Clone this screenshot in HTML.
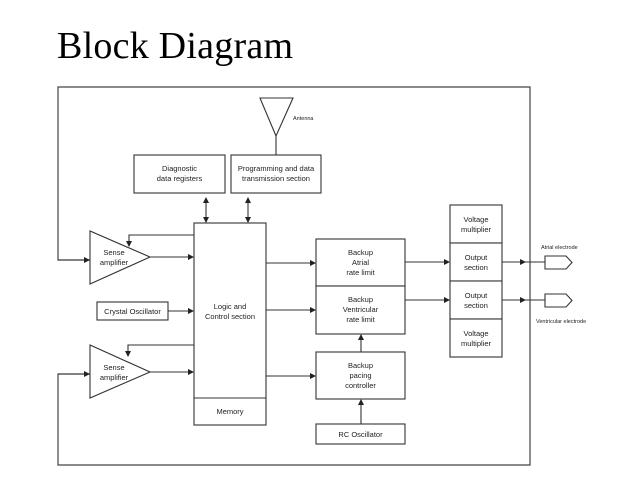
<!DOCTYPE html>
<html><head><meta charset="utf-8"><style>
html,body{margin:0;padding:0;background:#fff;}
svg text{font-family:"Liberation Sans",sans-serif;fill:#222;}
</style></head><body>
<svg width="638" height="479" viewBox="0 0 638 479" xmlns="http://www.w3.org/2000/svg">
<defs><marker id="a" markerWidth="6" markerHeight="6" refX="5" refY="3" orient="auto" markerUnits="userSpaceOnUse"><path d="M0,0 L6,3 L0,6z" fill="#222"/></marker>
<marker id="b" markerWidth="6" markerHeight="6" refX="1" refY="3" orient="auto" markerUnits="userSpaceOnUse"><path d="M6,0 L0,3 L6,6z" fill="#222"/></marker></defs>
<text x="57" y="58" style="font-family:'Liberation Serif',serif;font-size:38px;fill:#000" textLength="236">Block Diagram</text>
<g fill="none" stroke="#444" stroke-width="1.2">
<polyline points="90,260 58,260 58,87 530,87 530,465 58,465 58,374 90,374"/>
</g>
<g fill="#fff" stroke="#333" stroke-width="1.1">
<polygon points="260,98 293,98 276,136"/>
<rect x="134" y="155" width="91" height="38"/>
<rect x="231" y="155" width="90" height="38"/>
<rect x="194" y="223" width="72" height="202"/>
<line x1="194" y1="398" x2="266" y2="398"/>
<polygon points="90,231 90,284 150,257"/>
<polygon points="90,345 90,398 150,372"/>
<rect x="97" y="302" width="71" height="18"/>
<rect x="316" y="239" width="89" height="47"/>
<rect x="316" y="286" width="89" height="48"/>
<rect x="316" y="352" width="89" height="47"/>
<rect x="316" y="424" width="89" height="20"/>
<rect x="450" y="205" width="52" height="38"/>
<rect x="450" y="243" width="52" height="38"/>
<rect x="450" y="281" width="52" height="38"/>
<rect x="450" y="319" width="52" height="38"/>
<polygon points="545,256 566,256 572,262.5 566,269 545,269"/>
<polygon points="545,294 566,294 572,300.5 566,307 545,307"/>
</g>
<g stroke="#333" stroke-width="1.1" fill="none">
<line x1="276" y1="136" x2="276" y2="155"/>
<line x1="206" y1="198" x2="206" y2="222" marker-start="url(#b)" marker-end="url(#a)"/>
<line x1="248" y1="198" x2="248" y2="222" marker-start="url(#b)" marker-end="url(#a)"/>
<line x1="58" y1="260" x2="89" y2="260" marker-end="url(#a)"/>
<line x1="58" y1="374" x2="89" y2="374" marker-end="url(#a)"/>
<line x1="150" y1="257" x2="193" y2="257" marker-end="url(#a)"/>
<line x1="150" y1="372" x2="193" y2="372" marker-end="url(#a)"/>
<polyline points="194,235 129,235 129,246" marker-end="url(#a)"/>
<polyline points="194,345 128,345 128,356" marker-end="url(#a)"/>
<line x1="168" y1="311" x2="193" y2="311" marker-end="url(#a)"/>
<line x1="266" y1="263" x2="315" y2="263" marker-end="url(#a)"/>
<line x1="266" y1="310" x2="315" y2="310" marker-end="url(#a)"/>
<line x1="266" y1="376" x2="315" y2="376" marker-end="url(#a)"/>
<line x1="361" y1="352" x2="361" y2="335" marker-end="url(#a)"/>
<line x1="361" y1="424" x2="361" y2="400" marker-end="url(#a)"/>
<line x1="405" y1="262" x2="449" y2="262" marker-end="url(#a)"/>
<line x1="405" y1="300" x2="449" y2="300" marker-end="url(#a)"/>
<line x1="502" y1="262" x2="525" y2="262" marker-end="url(#a)"/>
<line x1="502" y1="300" x2="525" y2="300" marker-end="url(#a)"/>
<line x1="525" y1="262" x2="545" y2="262"/>
<line x1="525" y1="300" x2="545" y2="300"/>
</g>
<g font-size="7.5" text-anchor="middle">
<text x="179.5" y="171">Diagnostic</text><text x="179.5" y="181">data registers</text>
<text x="276" y="171">Programming and data</text><text x="276" y="181">transmission section</text>
<text x="230" y="309">Logic and</text><text x="230" y="319">Control section</text>
<text x="230" y="414">Memory</text>
<text x="114" y="255">Sense</text><text x="114" y="265">amplifier</text>
<text x="114" y="370">Sense</text><text x="114" y="380">amplifier</text>
<text x="132.5" y="314">Crystal Oscillator</text>
<text x="360.5" y="255">Backup</text><text x="360.5" y="265">Atrial</text><text x="360.5" y="275">rate limit</text>
<text x="360.5" y="302">Backup</text><text x="360.5" y="312">Ventricular</text><text x="360.5" y="322">rate limit</text>
<text x="360.5" y="368">Backup</text><text x="360.5" y="378">pacing</text><text x="360.5" y="388">controller</text>
<text x="360.5" y="437">RC Oscillator</text>
<text x="476" y="222">Voltage</text><text x="476" y="232">multiplier</text>
<text x="476" y="260">Output</text><text x="476" y="270">section</text>
<text x="476" y="298">Output</text><text x="476" y="308">section</text>
<text x="476" y="336">Voltage</text><text x="476" y="346">multiplier</text>
</g>
<g font-size="5.5">
<text x="293" y="120">Antenna</text>
<text x="541" y="249">Atrial electrode</text>
<text x="536" y="323">Ventricular electrode</text>
</g>
</svg>
</body></html>
